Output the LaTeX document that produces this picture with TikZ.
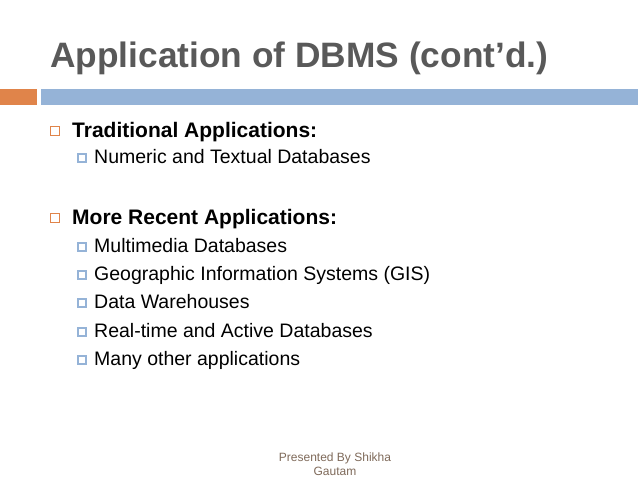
\documentclass[tikz,border=0pt]{standalone}
\usepackage{fontspec}
\setmainfont{Liberation Sans}
\definecolor{ttl}{HTML}{595959}
\definecolor{org}{HTML}{E0844A}
\definecolor{blu}{HTML}{95B3D7}
\definecolor{ftc}{HTML}{7F6A5A}
\tikzset{
 lone/.style={anchor=base west,inner sep=0pt,font=\fontsize{21}{24}\selectfont\bfseries},
 ltwo/.style={anchor=base west,inner sep=0pt,font=\fontsize{19.5}{22}\selectfont},
 bone/.style={draw=org,line width=0.8pt,minimum size=9pt,inner sep=0pt},
 btwo/.style={draw=blu,fill=white,line width=2pt,minimum size=8pt,inner sep=0pt},
}
\begin{document}
\begin{tikzpicture}[x=1pt,y=-1pt]
\useasboundingbox (0,0) rectangle (638,478);
\fill[white] (0,0) rectangle (638,478);
\node[anchor=base west,inner sep=0pt,text=ttl,font=\fontsize{35.3}{40}\selectfont\bfseries] (title) at (50,68) {Application of DBMS (cont’d.)};
\fill[org] (0,89) rectangle (37,105);
\fill[blu] (41,89) rectangle (638,105);
\node[bone] (b1) at (55,131) {};
\node[lone] (t1) at (72,138) {Traditional Applications:};
\node[btwo] (b2) at (82,158) {};
\node[ltwo] (t2) at (94,164) {Numeric and Textual Databases};
\node[bone] (b3) at (55,218) {};
\node[lone] (t3) at (72,225) {More Recent Applications:};
\foreach \y/\t [count=\i] in {253/Multimedia Databases,281/Geographic Information Systems (GIS),309/Data Warehouses,338/Real-time and Active Databases,366/Many other applications}{
 \node[btwo] (bb\i) at (82,\y-6) {};
 \node[ltwo] (tt\i) at (94,\y) {\t};
}
\node[align=center,text=ftc,font=\fontsize{12}{14}\selectfont] (foot) at (335,464) {Presented By Shikha\\Gautam};
\end{tikzpicture}
\end{document}
